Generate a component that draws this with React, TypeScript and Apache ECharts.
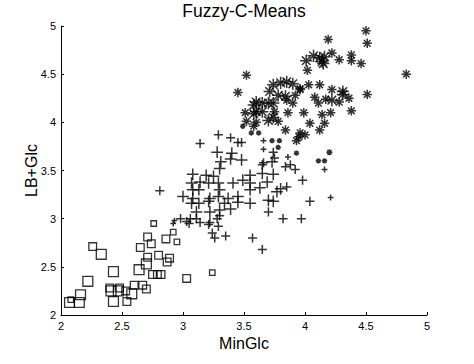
import { useEffect, useRef } from "react";
import * as echarts from "echarts";

// x, y, membership (drives marker size)
const squareData: number[][] = [
  [2.07, 2.13, 0.9], [2.08, 2.16, 0.5], [2.15, 2.13, 0.9], [2.16, 2.21, 0.9], [2.22, 2.35, 0.9],
  [2.26, 2.71, 0.7], [2.33, 2.63, 0.9], [2.43, 2.45, 0.9], [2.41, 2.25, 0.9], [2.43, 2.14, 0.9],
  [2.47, 2.25, 0.9], [2.53, 2.25, 0.7], [2.54, 2.14, 0.7], [2.58, 2.22, 0.9], [2.6, 2.31, 0.7],
  [2.65, 2.7, 0.7], [2.64, 2.47, 0.9], [2.67, 2.31, 0.7], [2.7, 2.53, 0.9], [2.71, 2.6, 0.7],
  [2.71, 2.81, 0.7], [2.74, 2.74, 0.7], [2.7, 2.27, 0.7], [2.75, 2.42, 0.7], [2.79, 2.42, 0.7],
  [2.76, 2.95, 0.5], [2.8, 2.62, 0.7], [2.86, 2.79, 0.7], [2.87, 2.55, 0.7], [2.89, 2.59, 0.7],
  [2.92, 2.86, 0.5], [2.95, 2.76, 0.5], [3.03, 2.38, 0.7], [3.24, 2.44, 0.5], [2.4, 2.28, 0.7],
  [2.48, 2.28, 0.7], [2.82, 2.42, 0.7],
];

const plusData: number[][] = [
  [2.81, 3.29, 0.7], [2.92, 2.95, 0.45], [2.98, 3.0, 0.7], [3.0, 3.23, 0.9], [3.06, 3.0, 0.7],
  [3.05, 2.95, 0.7], [3.07, 3.37, 0.9], [3.08, 3.46, 0.9], [3.08, 3.3, 0.9], [3.08, 3.21, 0.9],
  [3.07, 3.16, 0.9], [3.11, 3.07, 0.9], [3.13, 3.3, 0.9], [3.13, 3.16, 0.9], [3.14, 3.38, 0.9],
  [3.14, 2.96, 0.7], [3.14, 3.78, 0.7], [3.19, 3.45, 0.9], [3.21, 3.37, 0.9], [3.21, 3.18, 0.9],
  [3.22, 3.21, 0.9], [3.22, 3.07, 0.9], [3.22, 2.96, 0.7], [3.24, 2.85, 0.7], [3.25, 3.44, 0.9],
  [3.26, 2.8, 0.7], [3.28, 3.69, 0.9], [3.29, 3.87, 0.7], [3.29, 3.37, 0.9], [3.29, 3.23, 0.9],
  [3.29, 2.92, 0.7], [3.3, 3.52, 0.9], [3.3, 3.3, 0.9], [3.3, 3.09, 0.9], [3.3, 3.03, 0.7],
  [3.31, 3.59, 0.9], [3.34, 3.16, 0.9], [3.35, 2.82, 0.7], [3.37, 3.21, 0.9], [3.39, 3.84, 0.7],
  [3.39, 3.62, 0.9], [3.39, 3.1, 0.9], [3.4, 3.68, 0.9], [3.41, 3.37, 0.9], [3.45, 3.79, 0.7],
  [3.45, 3.23, 0.9], [3.45, 3.17, 0.9], [3.48, 3.79, 0.7], [3.48, 3.61, 0.9], [3.49, 3.4, 0.9],
  [3.55, 3.45, 0.9], [3.55, 3.37, 0.9], [3.55, 3.3, 0.9], [3.55, 3.16, 0.9], [3.57, 2.8, 0.7],
  [3.63, 3.32, 0.9], [3.65, 3.56, 0.7], [3.65, 3.47, 0.9], [3.65, 2.68, 0.7], [3.66, 3.81, 0.45],
  [3.66, 3.72, 0.45], [3.69, 3.38, 0.9], [3.7, 3.19, 0.9], [3.7, 3.07, 0.7], [3.73, 3.59, 0.9],
  [3.74, 3.69, 0.7], [3.74, 3.46, 0.9], [3.74, 3.18, 0.9], [3.75, 3.63, 0.7], [3.77, 3.28, 0.9],
  [3.8, 3.31, 0.9], [3.82, 3.0, 0.7], [3.84, 3.54, 0.7], [3.85, 3.33, 0.7], [3.86, 3.64, 0.45],
  [3.88, 3.56, 0.7], [3.92, 3.51, 0.7], [3.97, 3.0, 0.7], [3.98, 3.4, 0.7], [4.04, 3.18, 0.7],
  [4.16, 3.51, 0.45], [4.21, 3.22, 0.45], [2.93, 2.98, 0.45], [3.03, 2.97, 0.7], [3.11, 3.0, 0.7],
  [3.21, 2.94, 0.7], [3.28, 3.0, 0.7], [3.66, 3.58, 0.7],
];

const starData: number[][] = [
  [4.5, 4.95, 0.7], [4.19, 4.86, 0.7], [4.51, 4.82, 0.7], [4.22, 4.72, 0.7], [4.07, 4.69, 0.9],
  [4.01, 4.64, 0.9], [4.14, 4.63, 0.9], [4.15, 4.61, 0.9], [4.12, 4.67, 0.9], [4.16, 4.68, 0.9],
  [4.28, 4.65, 0.7], [4.38, 4.7, 0.7], [4.38, 4.64, 0.7], [4.46, 4.61, 0.7], [4.02, 4.54, 0.7],
  [4.83, 4.5, 0.7], [4.03, 4.39, 0.7], [4.12, 4.39, 0.7], [4.22, 4.34, 0.7], [4.31, 4.32, 0.9],
  [4.31, 4.29, 0.9], [4.08, 4.26, 0.7], [4.17, 4.24, 0.7], [4.22, 4.23, 0.9], [4.28, 4.21, 0.7],
  [4.36, 4.25, 0.7], [4.51, 4.29, 0.7], [4.11, 4.2, 0.7], [3.99, 4.1, 0.7], [4.14, 4.08, 0.7],
  [4.21, 4.1, 0.7], [4.38, 4.12, 0.7], [4.04, 3.99, 0.7], [4.16, 3.99, 0.7], [4.12, 3.92, 0.7],
  [4.0, 3.87, 0.7], [3.96, 4.35, 0.7], [3.52, 4.49, 0.7], [3.45, 4.31, 0.7], [3.74, 4.39, 0.9],
  [3.8, 4.41, 0.9], [3.85, 4.42, 0.9], [3.9, 4.4, 0.9], [3.96, 4.34, 0.7], [3.71, 4.32, 0.9],
  [3.78, 4.28, 0.9], [3.84, 4.27, 0.9], [3.92, 4.28, 0.7], [3.6, 4.21, 0.9], [3.58, 4.18, 0.9],
  [3.65, 4.2, 0.9], [3.7, 4.2, 0.9], [3.74, 4.2, 0.9], [3.85, 4.23, 0.7], [3.9, 4.2, 0.7],
  [3.6, 4.11, 0.9], [3.65, 4.11, 0.9], [3.51, 4.1, 0.7], [3.58, 4.09, 0.9], [3.75, 4.11, 0.7],
  [3.86, 4.1, 0.7], [3.52, 4.01, 0.7], [3.6, 4.0, 0.7], [3.7, 4.02, 0.9], [3.74, 4.05, 0.9],
  [3.78, 4.01, 0.7], [3.49, 3.96, 0.4], [3.58, 3.96, 0.7], [3.84, 3.92, 0.7], [3.56, 3.89, 0.4],
  [3.62, 3.89, 0.4], [3.96, 3.89, 0.7], [3.95, 3.85, 0.7], [3.93, 3.81, 0.7], [3.73, 3.81, 0.4],
  [3.79, 3.81, 0.4], [3.78, 3.74, 0.4], [3.93, 3.68, 0.4], [4.2, 3.69, 0.45], [4.11, 3.6, 0.4],
  [4.16, 3.6, 0.4],
];

const xTicks = [2, 2.5, 3, 3.5, 4, 4.5, 5];
const yTicks = [2, 2.5, 3, 3.5, 4, 4.5, 5];

const titleText = "Fuzzy-C-Means";
const xName = "MinGlc";
const yName = "LB+Glc";

const PLUS = "path://M0,5L10,5M5,0L5,10";
const STAR = "path://M0,5L10,5M5,0L5,10M1.46,1.46L8.54,8.54M1.46,8.54L8.54,1.46";
const FONT = "'Liberation Sans', Arial, sans-serif";

export default function App() {
  const ref = useRef<HTMLDivElement>(null);
  useEffect(() => {
    if (!ref.current) return;
    const chart = echarts.init(ref.current, null, { renderer: "svg" });
    const axisCommon = {
      type: "value" as const,
      nameLocation: "middle" as const,
      nameMoveOverlap: false,
      nameTextStyle: { color: "#000", fontSize: 16, fontFamily: FONT },
      axisLine: { show: true, lineStyle: { color: "#000", width: 1 } },
      axisTick: { show: true, inside: true, length: 3, lineStyle: { color: "#000" } },
      axisLabel: { color: "#000", fontSize: 11, fontFamily: FONT, margin: 5 },
      splitLine: { show: false },
    };
    chart.setOption({
      animation: false,
      backgroundColor: "#fff",
      title: {
        text: titleText,
        left: 244,
        top: 2,
        padding: 0,
        textAlign: "center",
        textStyle: { color: "#000", fontSize: 17.5, fontWeight: "normal", fontFamily: FONT },
      },
      grid: { left: 61, right: 47, top: 26, bottom: 49, containLabel: false },
      xAxis: {
        ...axisCommon,
        min: xTicks[0],
        max: xTicks[xTicks.length - 1],
        interval: xTicks[1] - xTicks[0],
        name: xName,
        nameGap: 20,
      },
      yAxis: {
        ...axisCommon,
        min: yTicks[0],
        max: yTicks[yTicks.length - 1],
        interval: yTicks[1] - yTicks[0],
        name: yName,
        nameRotate: 90,
        nameGap: 22,
      },
      series: [
        {
          type: "scatter",
          data: squareData,
          symbol: "rect",
          symbolSize: (v: number[]) => 11 * v[2],
          itemStyle: { color: "rgba(0,0,0,0)", borderColor: "#000", borderWidth: 1.3 },
        },
        {
          type: "scatter",
          data: plusData,
          symbol: PLUS,
          symbolSize: (v: number[]) => 13 * v[2],
          itemStyle: { color: "#000", borderColor: "#000", borderWidth: 1.5 },
        },
        {
          type: "scatter",
          data: starData,
          symbol: STAR,
          symbolSize: (v: number[]) => 13.5 * v[2],
          itemStyle: { color: "#000", borderColor: "#000", borderWidth: 1.5 },
        },
      ],
    });
    return () => chart.dispose();
  }, []);
  return (
    <div
      ref={ref}
      style={{ position: "fixed", left: 0, top: 0, width: 474, height: 364, background: "#fff" }}
    />
  );
}
